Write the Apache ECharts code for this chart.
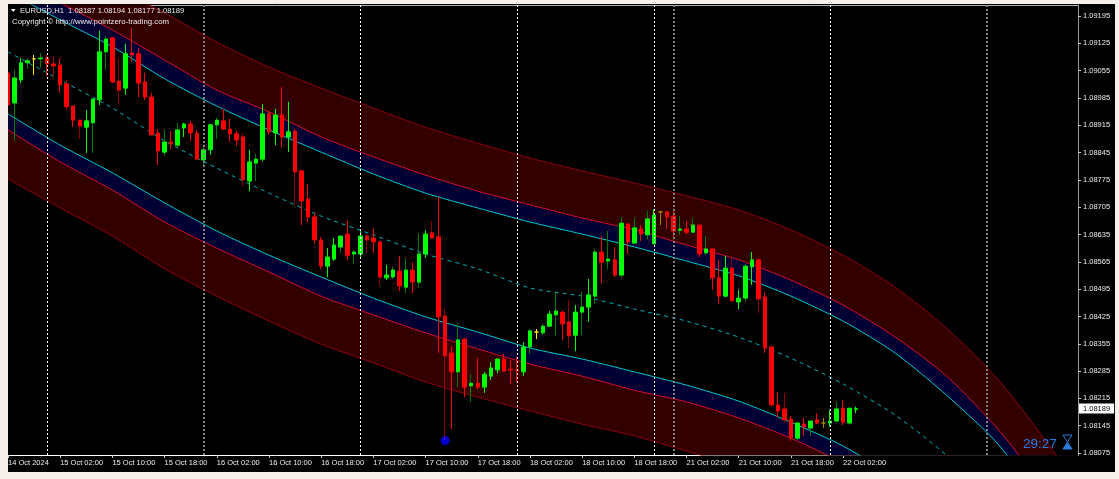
<!DOCTYPE html>
<html>
<head>
<meta charset="utf-8">
<title>EURUSD,H1</title>
<script src="https://cdn.jsdelivr.net/npm/echarts@6/dist/echarts.min.js"></script>
<style>
    html, body { margin: 0; padding: 0; width: 1119px; height: 479px; background: #f5f1ea; overflow: hidden; }
    #chart { position: absolute; left: 8px; top: 4px; width: 1107px; height: 468px; }
</style>
</head>
<body>
<div id="chart"></div>
<script>
// 蜡烛数据,每根一个值
const opens = [1.09049,1.08972,1.09031,1.09075,1.09085,1.09085,1.09087,1.09072,1.09069,1.09021,1.08964,1.08928,1.08910,1.08921,1.08980,1.09103,1.09139,1.09028,1.09010,1.09100,1.09098,1.09026,1.08987,1.08895,1.08846,1.08872,1.08864,1.08908,1.08918,1.08895,1.08826,1.08852,1.08916,1.08926,1.08905,1.08893,1.08885,1.08772,1.08818,1.08828,1.08944,1.08895,1.08941,1.08885,1.08900,1.08798,1.08726,1.08680,1.08621,1.08554,1.08572,1.08603,1.08636,1.08585,1.08585,1.08631,1.08626,1.08616,1.08524,1.08526,1.08541,1.08500,1.08544,1.08513,1.08585,1.08639,1.08629,1.08426,1.08331,1.08283,1.08367,1.08247,1.08254,1.08244,1.08272,1.08288,1.08316,1.08290,1.08288,1.08283,1.08347,1.08385,1.08383,1.08400,1.08429,1.08436,1.08411,1.08377,1.08436,1.08449,1.08477,1.08590,1.08567,1.08570,1.08531,1.08662,1.08613,1.08649,1.08634,1.08611,1.08693,1.08693,1.08682,1.08646,1.08649,1.08641,1.08659,1.08588,1.08598,1.08524,1.08477,1.08549,1.08462,1.08472,1.08552,1.08570,1.08475,1.08347,1.08198,1.08188,1.08162,1.08113,1.08149,1.08139,1.08160,1.08152,1.08152,1.08157,1.08190,1.08152,1.08187];
const closes = [1.08967,1.09036,1.09075,1.09080,1.09085,1.09087,1.09072,1.09067,1.09018,1.08962,1.08928,1.08913,1.08926,1.08982,1.09103,1.09136,1.09026,1.09005,1.09098,1.09095,1.09023,1.08987,1.08890,1.08849,1.08872,1.08867,1.08903,1.08918,1.08895,1.08828,1.08852,1.08916,1.08928,1.08905,1.08893,1.08877,1.08775,1.08821,1.08828,1.08944,1.08898,1.08941,1.08885,1.08898,1.08795,1.08721,1.08680,1.08621,1.08554,1.08577,1.08608,1.08631,1.08582,1.08590,1.08631,1.08621,1.08616,1.08526,1.08531,1.08544,1.08503,1.08544,1.08513,1.08585,1.08636,1.08626,1.08424,1.08324,1.08283,1.08365,1.08244,1.08254,1.08244,1.08277,1.08293,1.08316,1.08285,1.08288,1.08285,1.08347,1.08388,1.08385,1.08400,1.08431,1.08439,1.08406,1.08375,1.08436,1.08449,1.08480,1.08590,1.08564,1.08572,1.08531,1.08664,1.08616,1.08652,1.08636,1.08675,1.08685,1.08693,1.08680,1.08644,1.08649,1.08641,1.08659,1.08585,1.08598,1.08524,1.08477,1.08549,1.08465,1.08472,1.08554,1.08570,1.08470,1.08344,1.08198,1.08183,1.08160,1.08113,1.08152,1.08142,1.08157,1.08152,1.08152,1.08157,1.08188,1.08154,1.08190,1.08189];
const lows = [1.08959,1.08875,1.09023,1.09059,1.09044,1.09062,1.09041,1.09039,1.08998,1.08954,1.08910,1.08880,1.08844,1.08844,1.08967,1.09057,1.09023,1.08967,1.08993,1.09077,1.08987,1.08980,1.08890,1.08813,1.08836,1.08854,1.08857,1.08885,1.08875,1.08828,1.08813,1.08839,1.08880,1.08903,1.08872,1.08862,1.08759,1.08746,1.08772,1.08823,1.08890,1.08864,1.08859,1.08846,1.08711,1.08659,1.08667,1.08611,1.08547,1.08526,1.08567,1.08588,1.08570,1.08559,1.08575,1.08588,1.08588,1.08506,1.08518,1.08521,1.08490,1.08485,1.08485,1.08498,1.08575,1.08626,1.08331,1.08113,1.08136,1.08244,1.08218,1.08206,1.08239,1.08229,1.08262,1.08280,1.08285,1.08252,1.08257,1.08272,1.08329,1.08367,1.08377,1.08398,1.08377,1.08365,1.08344,1.08336,1.08377,1.08411,1.08457,1.08511,1.08547,1.08526,1.08524,1.08585,1.08611,1.08618,1.08623,1.08611,1.08659,1.08649,1.08623,1.08634,1.08636,1.08639,1.08577,1.08582,1.08493,1.08457,1.08475,1.08462,1.08444,1.08462,1.08506,1.08434,1.08331,1.08198,1.08167,1.08152,1.08106,1.08108,1.08119,1.08119,1.08149,1.08139,1.08142,1.08154,1.08147,1.08147,1.08177];
const highs = [1.09057,1.09057,1.09087,1.09087,1.09095,1.09100,1.09095,1.09092,1.09087,1.09031,1.08964,1.08928,1.08954,1.08982,1.09157,1.09144,1.09141,1.09087,1.09123,1.09164,1.09113,1.09049,1.08998,1.08905,1.08903,1.08900,1.08921,1.08921,1.08926,1.08903,1.08864,1.08918,1.08934,1.08957,1.08931,1.08900,1.08895,1.08852,1.08841,1.08969,1.08952,1.08957,1.09013,1.08975,1.08908,1.08798,1.08764,1.08690,1.08629,1.08600,1.08626,1.08631,1.08670,1.08595,1.08644,1.08636,1.08649,1.08621,1.08557,1.08552,1.08580,1.08575,1.08564,1.08639,1.08646,1.08670,1.08731,1.08447,1.08349,1.08408,1.08370,1.08277,1.08318,1.08283,1.08308,1.08316,1.08329,1.08313,1.08321,1.08359,1.08393,1.08393,1.08406,1.08439,1.08485,1.08439,1.08467,1.08454,1.08488,1.08521,1.08598,1.08631,1.08644,1.08603,1.08680,1.08662,1.08677,1.08659,1.08695,1.08700,1.08695,1.08693,1.08695,1.08682,1.08670,1.08677,1.08659,1.08631,1.08598,1.08570,1.08580,1.08577,1.08493,1.08559,1.08590,1.08577,1.08488,1.08347,1.08231,1.08229,1.08170,1.08152,1.08165,1.08157,1.08177,1.08165,1.08185,1.08206,1.08211,1.08190,1.08194];
// 影线偏暗的蜡烛
const wickDim = [1,3,5,7,9,11,13,15,17,24,26,30,32,36,38,44,51,53,55,57,59,61,63,65,67,69,71,80,82,84,86,88,90,92,94,96,98,100,103,105,107,111,113,115,119,121,123,125,127,129];

// 横轴:每8根一个标签
const tickLabels = ['14 Oct 2024','15 Oct 02:00','15 Oct 10:00','15 Oct 18:00','16 Oct 02:00','16 Oct 10:00','16 Oct 18:00','17 Oct 02:00','17 Oct 10:00','17 Oct 18:00','18 Oct 02:00','18 Oct 10:00','18 Oct 18:00','21 Oct 02:00','21 Oct 10:00','21 Oct 18:00','22 Oct 02:00'];
const barCount = 165;
const priceTicks = [1.09195,1.09125,1.09055,1.08985,1.08915,1.08845,1.08775,1.08705,1.08635,1.08565,1.08495,1.08425,1.08355,1.08285,1.08215,1.08145,1.08075];
const sepBright = [6,54,78,99,126];
const sepDim = [30,102,150];

// 通道线,取样在这些柱上
const bandBars = [0,8,16,24,32,40,48,56,64,72,80,88,96,104,112,120,128,136,144,152,160,164];
const upperOuter = [1.09390,1.09326,1.09267,1.09203,1.09128,1.09064,1.09010,1.08959,1.08910,1.08869,1.08831,1.08798,1.08767,1.08734,1.08698,1.08647,1.08582,1.08500,1.08393,1.08259,1.08085,1.07980];
const upperRed = [1.09292,1.09228,1.09159,1.09082,1.09005,1.08949,1.08885,1.08834,1.08787,1.08746,1.08711,1.08677,1.08647,1.08608,1.08570,1.08518,1.08454,1.08372,1.08270,1.08131,1.07955,1.07852];
const upperCyan = [1.09257,1.09185,1.09116,1.09034,1.08964,1.08903,1.08846,1.08790,1.08741,1.08703,1.08667,1.08636,1.08603,1.08567,1.08529,1.08477,1.08413,1.08331,1.08221,1.08093,1.07903,1.07801];
const midLine = [1.09103,1.09031,1.08959,1.08875,1.08805,1.08741,1.08682,1.08634,1.08585,1.08547,1.08498,1.08477,1.08444,1.08413,1.08372,1.08318,1.08252,1.08172,1.08067,1.07934,1.07749,1.07647];
const lowerCyan = [1.08944,1.08864,1.08793,1.08716,1.08644,1.08582,1.08526,1.08472,1.08424,1.08385,1.08344,1.08316,1.08283,1.08249,1.08208,1.08154,1.08093,1.08011,1.07903,1.07762,1.07596,1.07493];
const lowerRed = [1.08903,1.08821,1.08749,1.08667,1.08600,1.08539,1.08477,1.08429,1.08383,1.08342,1.08303,1.08272,1.08236,1.08206,1.08165,1.08113,1.08049,1.07967,1.07860,1.07719,1.07544,1.07442];
const lowerOuter = [1.08777,1.08703,1.08631,1.08547,1.08477,1.08413,1.08354,1.08306,1.08257,1.08218,1.08183,1.08149,1.08119,1.08080,1.08039,1.07988,1.07924,1.07844,1.07739,1.07596,1.07416,1.07314];

const lastPrice = 1.08189;
const signalBar = 67;
const signalPrice = 1.08107;

const GREEN = '#00ff00', GREEN_DIM = '#007a00';
const RED = '#ff0000', RED_DIM = '#8e0000';
const YELLOW = '#ffee00', YELLOW_DIM = '#9a8a00';
const TEXT = '#ececec';
const FONT = '"Liberation Sans"';
const TIMER_BLUE = '#2a7ce0';

const categories = [];
for (let i = 0; i < barCount; i++) {
    categories.push(i % 8 === 0 && tickLabels[i / 8] ? tickLabels[i / 8] : '');
}

function bodyColor(i) {
    if (closes[i] === opens[i]) return wickDim.indexOf(i) >= 0 ? YELLOW_DIM : YELLOW;
    return closes[i] > opens[i] ? GREEN : RED;
}

function wickColor(i) {
    if (closes[i] === opens[i]) return bodyColor(i);
    if (wickDim.indexOf(i) < 0) return bodyColor(i);
    return closes[i] > opens[i] ? GREEN_DIM : RED_DIM;
}

function solid(c) {
    return { color: c, color0: c, borderColor: c, borderColor0: c, borderColorDoji: c, borderWidth: 1 };
}

// 先画影线,再把实体盖上去
const wickData = opens.map((o, i) => ({
    value: [o, closes[i], lows[i], highs[i]],
    itemStyle: solid(wickColor(i))
}));
const bodyData = opens.map((o, i) => ({
    value: [o, closes[i], Math.min(o, closes[i]), Math.max(o, closes[i])],
    itemStyle: solid(bodyColor(i))
}));

function band(name, values, lineColor, fill, dashed) {
    const s = {
        name: name,
        type: 'line',
        z: 1,
        data: values.map((v, k) => [bandBars[k], v]),
        showSymbol: false,
        smooth: 0.25,
        silent: true,
        lineStyle: { color: lineColor, width: 1, type: dashed ? [4, 4] : 'solid' }
    };
    if (fill) s.areaStyle = { color: fill, opacity: 1, origin: 'start' };
    return s;
}

function sepLine(bars, color, width) {
    return {
        symbol: 'none',
        silent: true,
        animation: false,
        label: { show: false },
        lineStyle: { color: color, width: width, type: [2, 2] },
        data: bars.map(b => ({ xAxis: b }))
    };
}

const plainTitle = (text, left, top, color, size) => ({
    text: text,
    left: left,
    top: top,
    padding: 0,
    textStyle: { color: color, fontSize: size, fontWeight: 'normal', fontFamily: FONT }
});

const option = {
    backgroundColor: '#000000',
    animation: false,
    textStyle: { fontFamily: FONT },
    title: [
        plainTitle('EURUSD,H1  1.08187 1.08194 1.08177 1.08189', 12, 3, TEXT, 7.6),
        plainTitle('Copyright © http://www.pointzero-trading.com', 4, 14, TEXT, 7.8),
        plainTitle('29:27', 1015, 433, TIMER_BLUE, 13.5)
    ],
    // 左上角小三角和沙漏
    graphic: [
        { type: 'polygon', z: 20, silent: true, shape: { points: [[3, 5], [7.5, 5], [5.25, 8]] }, style: { fill: '#ffffff' } },
        {
            type: 'polyline', z: 20, silent: true,
            shape: { points: [[1055, 431], [1064, 431], [1059.5, 438], [1064, 445], [1055, 445], [1059.5, 438], [1055, 431]] },
            style: { fill: 'none', stroke: TIMER_BLUE, lineWidth: 1 }
        },
        { type: 'polygon', z: 20, silent: true, shape: { points: [[1055, 445], [1064, 445], [1059.5, 439]] }, style: { fill: TIMER_BLUE } }
    ],
    grid: { left: 0, top: 1, width: 1070, height: 450, containLabel: false, outerBoundsMode: 'none' },
    xAxis: [
        {
            type: 'category',
            data: categories,
            boundaryGap: false,
            min: 0,
            max: barCount - 1,
            position: 'bottom',
            axisLine: { show: true, lineStyle: { color: '#ffffff', width: 1 } },
            axisTick: { show: true, length: 3, interval: (i) => i % 8 === 0 && i <= 128, lineStyle: { color: '#c8c8c8' } },
            axisLabel: { interval: 0, color: TEXT, fontSize: 7.5, fontFamily: FONT, align: 'left', margin: 4, hideOverlap: false },
            splitLine: { show: false }
        },
        {
            type: 'category',
            data: categories,
            boundaryGap: false,
            min: 0,
            max: barCount - 1,
            position: 'top',
            axisLine: { show: true, lineStyle: { color: '#b0b0b0', width: 1 } },
            axisTick: { show: false },
            axisLabel: { show: false }
        }
    ],
    yAxis: {
        type: 'value',
        position: 'right',
        min: 1.0807,
        max: 1.09223,
        scale: true,
        splitLine: { show: false },
        axisLine: { show: true, lineStyle: { color: '#9a9a9a', width: 1 } },
        axisTick: { show: true, length: 3, customValues: priceTicks, lineStyle: { color: '#c8c8c8' } },
        axisLabel: {
            customValues: priceTicks.concat([lastPrice]),
            color: TEXT,
            fontSize: 7.5,
            fontFamily: FONT,
            margin: 1,
            hideOverlap: false,
            // 当前价用白底标出来
            formatter: (v) => (v === lastPrice ? '{last|' : '{tick|') + v.toFixed(5) + '}',
            rich: {
                tick: { color: TEXT, fontSize: 7.5, fontFamily: FONT, padding: [1, 4, 1, 4] },
                last: { color: '#000000', fontSize: 7.5, fontFamily: FONT, padding: [1, 4, 1, 4], backgroundColor: '#ffffff' }
            }
        }
    },
    series: [
        band('upperOuter', upperOuter, '#8c0010', '#330000'),
        band('upperRed', upperRed, '#d80c2c', '#000033'),
        band('upperCyan', upperCyan, '#00c8d0', '#000000'),
        band('lowerCyan', lowerCyan, '#00c8d0', '#000033'),
        band('lowerRed', lowerRed, '#d80c2c', '#330000'),
        band('lowerOuter', lowerOuter, '#8c0010', '#000000'),
        band('midLine', midLine, '#00b0b8', null, true),
        {
            name: 'sepBright',
            type: 'line',
            z: 2,
            data: [],
            markLine: sepLine(sepBright, '#ffffff', 1)
        },
        {
            name: 'sepDim',
            type: 'line',
            z: 2,
            data: [],
            markLine: sepLine(sepDim, '#808080', 2)
        },
        {
            name: 'wick',
            type: 'candlestick',
            z: 3,
            barWidth: 1,
            silent: true,
            data: wickData
        },
        {
            name: 'body',
            type: 'candlestick',
            z: 4,
            barWidth: 4,
            silent: true,
            data: bodyData
        },
        {
            name: 'signal',
            type: 'scatter',
            z: 5,
            symbolSize: 9,
            itemStyle: { color: '#0000ff' },
            data: [[signalBar, signalPrice]]
        }
    ]
};

const chart = echarts.init(document.getElementById('chart'), null, { renderer: 'canvas' });
chart.setOption(option);
</script>
</body>
</html>
